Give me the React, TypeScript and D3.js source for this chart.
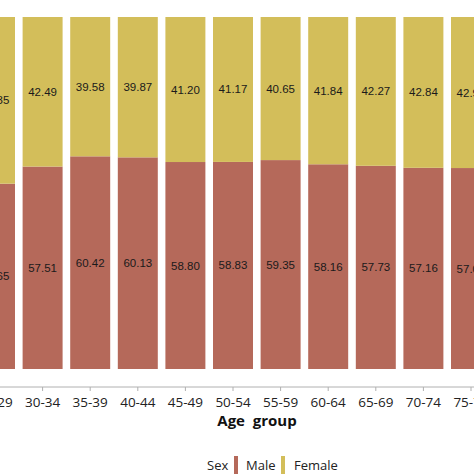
import * as d3 from "d3";

const AGE_GROUPS = ["25-29", "30-34", "35-39", "40-44", "45-49", "50-54", "55-59", "60-64", "65-69", "70-74", "75-79"];
const MALE = [52.65, 57.51, 60.42, 60.13, 58.8, 58.83, 59.35, 58.16, 57.73, 57.16, 57.09];
const FEMALE = [47.35, 42.49, 39.58, 39.87, 41.2, 41.17, 40.65, 41.84, 42.27, 42.84, 42.91];
const SEXES = ["Male", "Female"];

const W = 474;
const H = 474;
const COLORS: Record<string, string> = { Male: "#b5695a", Female: "#d3be5a" };

export default function App() {
  const x = d3.scaleBand<string>().domain(AGE_GROUPS).range([-28.8, 494.8]).paddingInner(0.16).paddingOuter(0.08);
  const y = d3.scaleLinear().domain([0, 100]).range([369, 17]);

  const rows = AGE_GROUPS.map((g, i) => ({ group: g, Male: MALE[i], Female: FEMALE[i] }));
  const stack = d3.stack<any>().keys(SEXES)(rows);

  const axisY = 387;

  return (
    <svg width={W} height={H} style={{ position: "absolute", left: 0, top: 0, background: "#fff" }}>
      {stack.map((layer) => (
        <g key={layer.key}>
          {layer.map((d, i) => {
            const x0 = x(AGE_GROUPS[i])!;
            const top = y(d[1]);
            const bot = y(d[0]);
            const val = layer.key === "Male" ? MALE[i] : FEMALE[i];
            return (
              <g key={i}>
                <rect x={x0} y={top} width={x.bandwidth()} height={bot - top} fill={COLORS[layer.key]} />
                <text
                  x={x0 + x.bandwidth() / 2}
                  y={(top + bot) / 2}
                  dy="0.35em"
                  textAnchor="middle"
                  fontFamily="'Liberation Sans', Arial, sans-serif"
                  fontSize={11.5}
                  fill="#1a1a1a"
                >
                  {val.toFixed(2)}
                </text>
              </g>
            );
          })}
        </g>
      ))}

      <line x1={0} x2={W} y1={axisY} y2={axisY} stroke="#b0b0b0" strokeWidth={1} />
      {AGE_GROUPS.map((g) => {
        const cx = x(g)! + x.bandwidth() / 2;
        return (
          <g key={g}>
            <line x1={cx} x2={cx} y1={axisY} y2={axisY + 4} stroke="#b0b0b0" />
            <text x={cx} y={axisY + 20} textAnchor="middle" fontFamily="'Open Sans', sans-serif" fontSize={13.5} fill="#222">
              {g}
            </text>
          </g>
        );
      })}
      <text x={257} y={426} textAnchor="middle" fontFamily="'Open Sans', sans-serif" fontWeight="bold" fontSize={15} fill="#111" style={{ whiteSpace: "pre" }}>
        {"Age  group"}
      </text>

      <g fontFamily="'Open Sans', sans-serif" fontSize={13} fill="#222">
        <text x={207} y={470}>Sex</text>
        <rect x={234} y={456} width={4} height={19} fill={COLORS.Male} />
        <text x={246} y={470}>Male</text>
        <rect x={281} y={456} width={4} height={19} fill={COLORS.Female} />
        <text x={294} y={470}>Female</text>
      </g>
    </svg>
  );
}
